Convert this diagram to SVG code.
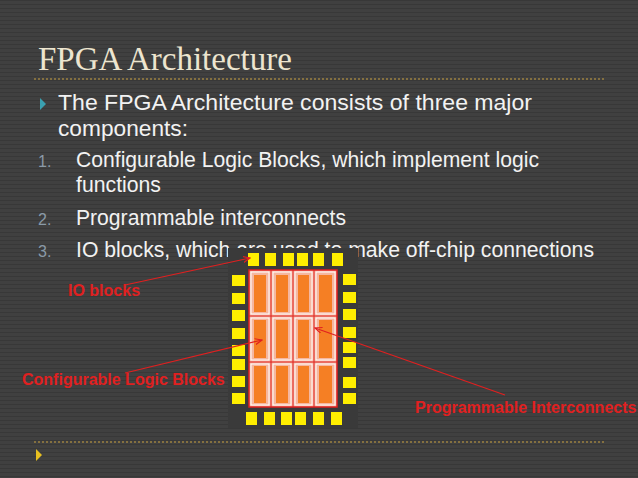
<svg xmlns="http://www.w3.org/2000/svg" width="638" height="478" viewBox="0 0 638 478">
<defs>
<pattern id="st" width="4" height="4" patternUnits="userSpaceOnUse"><rect width="4" height="4" fill="#404040"/><rect width="4" height="1" fill="#383838"/></pattern>
<marker id="ah" markerWidth="8" markerHeight="8" refX="7" refY="4" orient="auto" markerUnits="userSpaceOnUse"><path d="M0,1 L7,4 L0,7" fill="none" stroke="#e02020" stroke-width="1.2"/></marker>
</defs>
<style>
.t{font-family:"Liberation Sans",Arial,sans-serif;font-size:21.5px;fill:#f2f2f2}
.n{font-family:"Liberation Sans",Arial,sans-serif;font-size:16px;fill:#8a9aa8}
.lab{font-family:"Liberation Sans",Arial,sans-serif;font-size:16px;font-weight:bold;fill:#e02020}
.pad{fill:#ffee00}
.cell{fill:#f5b7a0;stroke:#ffffff;stroke-width:1}
.in{fill:#f57f24}
.dl{stroke:#c8a040;stroke-width:1;stroke-dasharray:2,2}
</style>
<rect width="638" height="478" fill="url(#st)"/>
<text x="38" y="70" font-family="Liberation Serif,serif" font-size="33" fill="#ede5cf">FPGA Architecture</text>
<line class="dl" x1="34" y1="79" x2="606" y2="79"/>
<line class="dl" x1="34" y1="442" x2="606" y2="442"/>
<path d="M36,449 L42,455 L36,461Z" fill="#e8c020"/>
<path d="M40,98 L46,104 L40,110Z" fill="#3aa0b0"/>
<g id="text">
<text class="t" x="58" y="110" textLength="474" lengthAdjust="spacingAndGlyphs">The FPGA Architecture consists of three major</text>
<text class="t" x="58" y="136" textLength="130" lengthAdjust="spacingAndGlyphs">components:</text>
<text class="n" x="38" y="167">1.</text><text class="t" x="76" y="167" textLength="463" lengthAdjust="spacingAndGlyphs">Configurable Logic Blocks, which implement logic</text>
<text class="t" x="76" y="192" textLength="85" lengthAdjust="spacingAndGlyphs">functions</text>
<text class="n" x="38" y="225">2.</text><text class="t" x="76" y="225" textLength="270" lengthAdjust="spacingAndGlyphs">Programmable interconnects</text>
<text class="n" x="38" y="257">3.</text><text class="t" x="76" y="257" textLength="518" lengthAdjust="spacingAndGlyphs">IO blocks, which are used to make off-chip connections</text>
</g>
<g id="chip">
<rect x="228" y="248" width="130" height="180" fill="#3a3a3a"/>
<g class="pad">
<rect x="248" y="253" width="11" height="13"/><rect x="265" y="253" width="11" height="13"/><rect x="283" y="253" width="11" height="13"/><rect x="297" y="253" width="11" height="13"/><rect x="313" y="253" width="11" height="13"/><rect x="332" y="253" width="11" height="13"/>
<rect x="246" y="412" width="11" height="13"/><rect x="264" y="412" width="11" height="13"/><rect x="281" y="412" width="11" height="13"/><rect x="295" y="412" width="11" height="13"/><rect x="313" y="412" width="11" height="13"/><rect x="331" y="412" width="11" height="13"/>
<rect x="232" y="275" width="13" height="11"/><rect x="232" y="293" width="13" height="11"/><rect x="232" y="310" width="13" height="11"/><rect x="232" y="328" width="13" height="11"/><rect x="232" y="345" width="13" height="11"/><rect x="232" y="359" width="13" height="11"/><rect x="232" y="376" width="13" height="11"/><rect x="232" y="393" width="13" height="11"/>
<rect x="343" y="274" width="13" height="11"/><rect x="343" y="292" width="13" height="11"/><rect x="343" y="309" width="13" height="11"/><rect x="343" y="327" width="13" height="11"/><rect x="343" y="342" width="13" height="11"/><rect x="343" y="357" width="13" height="11"/><rect x="343" y="377" width="13" height="11"/><rect x="343" y="393" width="13" height="11"/>
</g>
<rect x="249" y="270" width="88" height="137" fill="#f5b7a0" stroke="#e02020" stroke-width="1.5"/>
<g>
<rect class="cell" x="251" y="272" width="18" height="42"/><rect class="in" x="254" y="275" width="12" height="37"/>
<rect class="cell" x="273" y="272" width="18" height="42"/><rect class="in" x="276" y="275" width="12" height="37"/>
<rect class="cell" x="295" y="272" width="17" height="42"/><rect class="in" x="298" y="275" width="11" height="37"/>
<rect class="cell" x="316" y="272" width="19" height="42"/><rect class="in" x="319" y="275" width="13" height="37"/>
<rect class="cell" x="251" y="318" width="18" height="42"/><rect class="in" x="254" y="320" width="12" height="38"/>
<rect class="cell" x="273" y="318" width="18" height="42"/><rect class="in" x="276" y="320" width="12" height="38"/>
<rect class="cell" x="295" y="318" width="17" height="42"/><rect class="in" x="298" y="320" width="11" height="38"/>
<rect class="cell" x="316" y="318" width="19" height="42"/><rect class="in" x="319" y="320" width="13" height="38"/>
<rect class="cell" x="251" y="364" width="18" height="41"/><rect class="in" x="254" y="366" width="12" height="37"/>
<rect class="cell" x="273" y="364" width="18" height="41"/><rect class="in" x="276" y="366" width="12" height="37"/>
<rect class="cell" x="295" y="364" width="17" height="41"/><rect class="in" x="298" y="366" width="11" height="37"/>
<rect class="cell" x="316" y="364" width="19" height="41"/><rect class="in" x="319" y="366" width="13" height="37"/>
</g>
<g stroke="#e02020" stroke-width="1">
<line x1="249" y1="316" x2="337" y2="316"/><line x1="249" y1="362" x2="337" y2="362"/>
<line x1="271" y1="270" x2="271" y2="407"/><line x1="293" y1="270" x2="293" y2="407"/><line x1="314" y1="270" x2="314" y2="407"/>
</g>
</g>
<g id="connectors" stroke="#e02020" stroke-width="1.2" fill="none">
<line x1="125" y1="285" x2="250" y2="258" marker-end="url(#ah)"/>
<line x1="125" y1="373" x2="262" y2="340" marker-end="url(#ah)"/>
<line x1="505" y1="395" x2="315" y2="328" marker-end="url(#ah)"/>
</g>
<g id="labels">
<text class="lab" x="68" y="296">IO blocks</text>
<text class="lab" x="22" y="385">Configurable Logic Blocks</text>
<text class="lab" x="415" y="413">Programmable Interconnects</text>
</g>
</svg>
